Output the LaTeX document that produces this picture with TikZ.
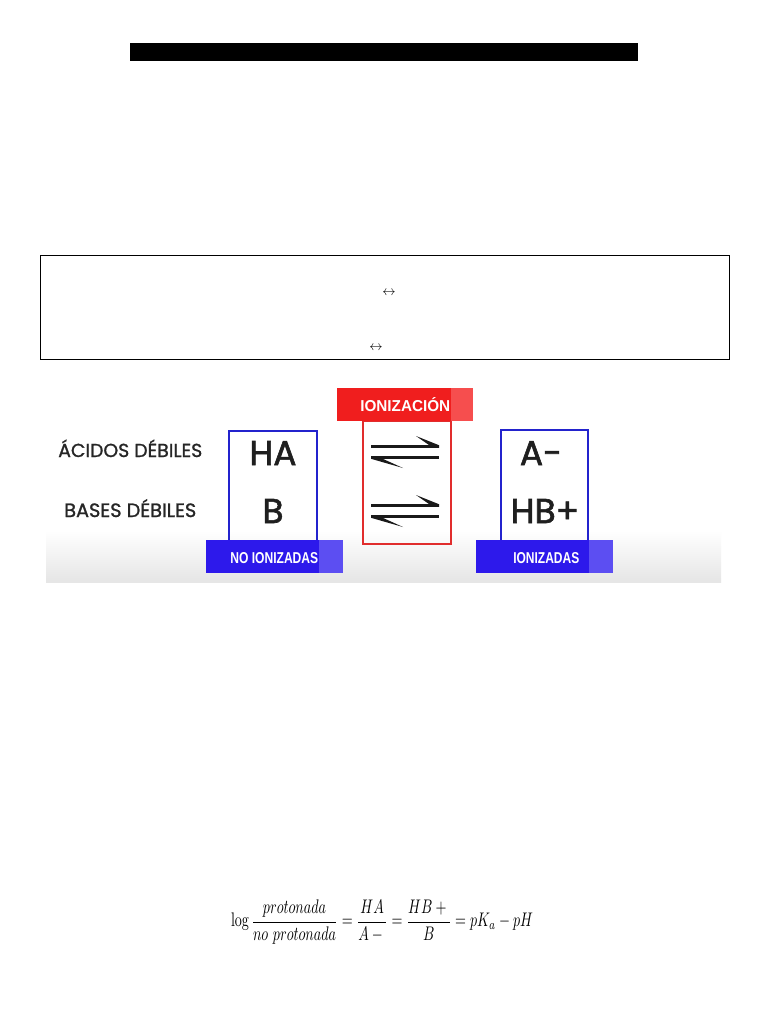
\documentclass[tikz,border=0pt]{standalone}
\usepackage{fontspec}
\usepackage{amsmath}
\usepackage{graphicx}
\newfontfamily\popf[FakeBold=1.2]{Poppins}
\newfontfamily\popb[FakeBold=1.8]{Poppins}
\newfontfamily\condf{Liberation Sans}
\newlength\pxu \setlength\pxu{0.75pt}
\definecolor{vblue}{RGB}{45,25,235}
\definecolor{vbluel}{RGB}{92,78,242}
\definecolor{vred}{RGB}{240,30,30}
\definecolor{vredl}{RGB}{246,78,78}
\definecolor{oblue}{RGB}{35,35,205}
\definecolor{ored}{RGB}{225,45,45}
\tikzset{
  lbl/.style={inner sep=0pt, anchor=base west, text=black!85},
  big/.style={inner sep=0pt, anchor=base, text=black!88, font=\popb\fontsize{25.8}{26}\selectfont},
  tag/.style={inner sep=0pt, anchor=base west, text=white},
  harp/.style={line width=2.6\pxu, black!90},
  barb/.style={fill=black!90},
}
\newcommand\eqharpoon[1]{%
  \begin{scope}[shift={(0,#1)}]
    \draw[harp] (371,0) -- (439,0);
    \fill[barb] (416,-10.5) -- (439,-1.3) -- (439,1.3) -- (433,1.3) -- cycle;
    \draw[harp] (371,11) -- (439,11);
    \fill[barb] (371,9.7) -- (377,9.7) -- (403,21.5) -- (371,12.3) -- cycle;
  \end{scope}}
\begin{document}
\begin{tikzpicture}[x=0.75pt,y=-0.75pt]
\useasboundingbox (0,0) rectangle (768,1024);
\fill[white] (0,0) rectangle (768,1024);
% top bar
\fill[black] (130,43) rectangle (638,61);
% empty box with arrows
\draw[line width=0.8\pxu] (40,255) rectangle (729,359);
\node[inner sep=0pt] (ar1) at (389,293) {$\leftrightarrow$};
\node[inner sep=0pt] (ar2) at (376,348) {$\leftrightarrow$};
% image panel
\fill[white] (46,367) rectangle (721,582);
\shade[top color=white, bottom color=black!10] (46,530) rectangle (721,582);
% row labels
\node[lbl] (acid) at (58,457) {\resizebox{144\pxu}{!}{\popf ÁCIDOS DÉBILES}};
\node[lbl] (base) at (64,517) {\resizebox{132\pxu}{!}{\popf BASES DÉBILES}};
% left box
\draw[oblue, line width=1.6\pxu] (229,545) -- (229,431) -- (317,431) -- (317,545);
\node[big] (ha) at (273,465) {HA};
\node[big] (b) at (273,523) {B};
\fill[vblue] (206,540) rectangle (319,573);
\fill[vbluel] (319,540) rectangle (343,573);
\node[tag] (noion) at (230,563) {\resizebox{88\pxu}{11\pxu}{\condf\bfseries NO IONIZADAS}};
% right box
\draw[oblue, line width=1.6\pxu] (501,545) -- (501,430) -- (588,430) -- (588,545);
\node[big] (am) at (541,465) {A-};
\node[big] (hbp) at (545,523) {HB+};
\fill[vblue] (476,540) rectangle (589,573);
\fill[vbluel] (589,540) rectangle (613,573);
\node[tag] (ion) at (513,563) {\resizebox{66\pxu}{11\pxu}{\condf\bfseries IONIZADAS}};
% red box
\draw[ored, line width=1.6\pxu] (363,421) rectangle (451,544);
\fill[vred] (337,388) rectangle (451,421);
\fill[vredl] (451,388) rectangle (473,421);
\node[tag] (ionz) at (360,411) {\resizebox{90\pxu}{14\pxu}{\condf\bfseries IONIZACIÓN}};
% equilibrium harpoons
\eqharpoon{446.5}
\eqharpoon{505.5}
% equation
\node[inner sep=0pt] (eq) at (382,922) {\resizebox{302\pxu}{27\pxu}{$\displaystyle \log\frac{protonada}{no\ protonada}=\frac{HA}{A-{}}=\frac{HB+{}}{B}=pK_a-pH$}};
\end{tikzpicture}
\end{document}
